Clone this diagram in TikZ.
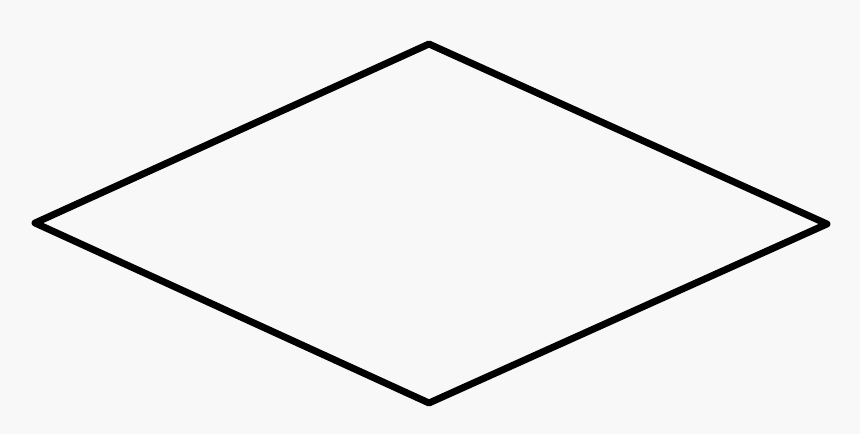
\documentclass[tikz,border=0pt]{standalone}
\begin{document}
\begin{tikzpicture}[x=0.75pt,y=0.75pt,yscale=-1,xscale=1]
        %Background
        \path[fill={rgb, 255:red, 248; green, 248; blue, 248 }] (0,0) rectangle (860,434);
        \useasboundingbox (0,0) rectangle (860,434);
        %Corner points
        \coordinate (top) at (429,44);
        \coordinate (right) at (827,224);
        \coordinate (bottom) at (429,403);
        \coordinate (left) at (35,223);
        %Diamond
        \draw [line width=5.2, line join=round, line cap=round]  (top) -- (right) -- (bottom) -- (left) -- cycle ;
    \end{tikzpicture}
\end{document}
